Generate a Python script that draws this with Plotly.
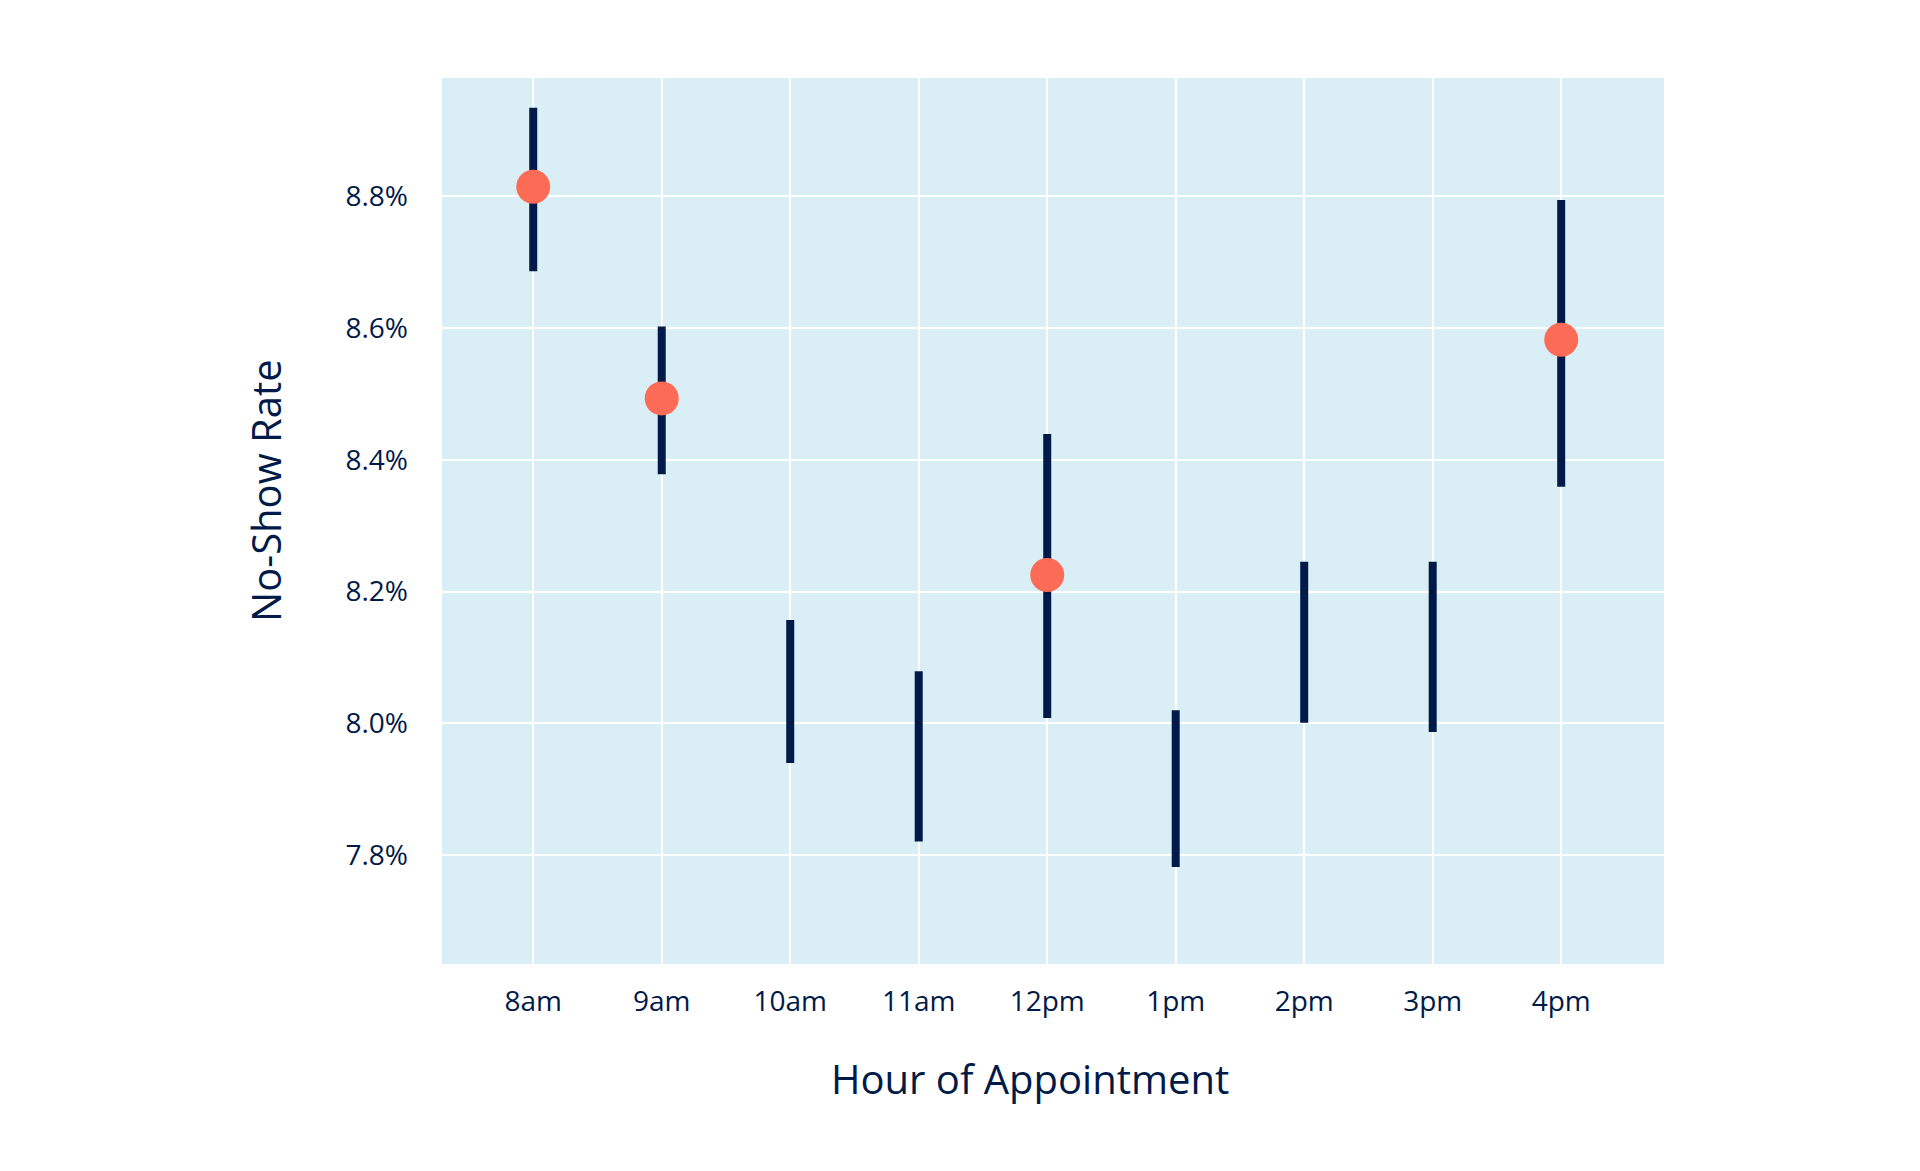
import plotly.graph_objects as go

# appointment hour vs no-show rate (%), with confidence interval bounds
hours = ["8am", "9am", "10am", "11am", "12pm", "1pm", "2pm", "3pm", "4pm"]
ci_low = [8.686, 8.378, 7.940, 7.821, 8.008, 7.782, 8.001, 7.987, 8.359]
ci_high = [8.934, 8.602, 8.157, 8.079, 8.439, 8.020, 8.245, 8.245, 8.794]
# point estimate shown only for the highlighted hours
highlight_rate = [8.814, 8.493, None, None, 8.225, None, None, None, 8.582]

NAVY = "#011a48"
CORAL = "#fc6b55"
FONT = "Open Sans"

# vertical interval segments, one per hour, separated by None
seg_x, seg_y = [], []
for h, lo, hi in zip(hours, ci_low, ci_high):
    seg_x += [h, h, None]
    seg_y += [lo, hi, None]

fig = go.Figure()
fig.add_trace(go.Scatter(
    x=seg_x, y=seg_y, mode="lines",
    line=dict(color=NAVY, width=8),
    hoverinfo="skip", showlegend=False,
))
fig.add_trace(go.Scatter(
    x=hours, y=highlight_rate, mode="markers",
    marker=dict(color=CORAL, size=34, line=dict(width=0)),
    showlegend=False,
))

fig.update_layout(
    width=1920, height=1171,
    margin=dict(l=434, r=264, t=70, b=215),
    paper_bgcolor="white",
    plot_bgcolor="#daeef5",
    font=dict(family=FONT, color=NAVY, size=28),
    showlegend=False,
)
fig.update_xaxes(
    type="category", categoryorder="array", categoryarray=hours,
    range=[-0.71, 8.80],
    showgrid=True, gridcolor="white", gridwidth=2,
    zeroline=False, showline=False, ticks="",
    ticklabelstandoff=18,
    tickfont=dict(size=28, color=NAVY),
)
fig.update_yaxes(
    range=[7.635, 8.979],
    tickvals=[7.8, 8.0, 8.2, 8.4, 8.6, 8.8],
    ticktext=["7.8%", "8.0%", "8.2%", "8.4%", "8.6%", "8.8%"],
    showgrid=True, gridcolor="white", gridwidth=2,
    zeroline=False, showline=False, ticks="",
    ticklabelstandoff=33,
    tickfont=dict(size=28, color=NAVY),
)

# axis titles placed as annotations to match the original positions
fig.add_annotation(
    text="Hour of Appointment", xref="paper", yref="paper",
    x=0.481, y=-0.129, xanchor="center", yanchor="middle",
    showarrow=False, font=dict(family=FONT, size=40, color=NAVY),
)
fig.add_annotation(
    text="No-Show Rate", xref="paper", yref="paper",
    x=-0.144, y=0.534, xanchor="center", yanchor="middle", textangle=-90,
    showarrow=False, font=dict(family=FONT, size=40, color=NAVY),
)

fig.write_html("out.html")
